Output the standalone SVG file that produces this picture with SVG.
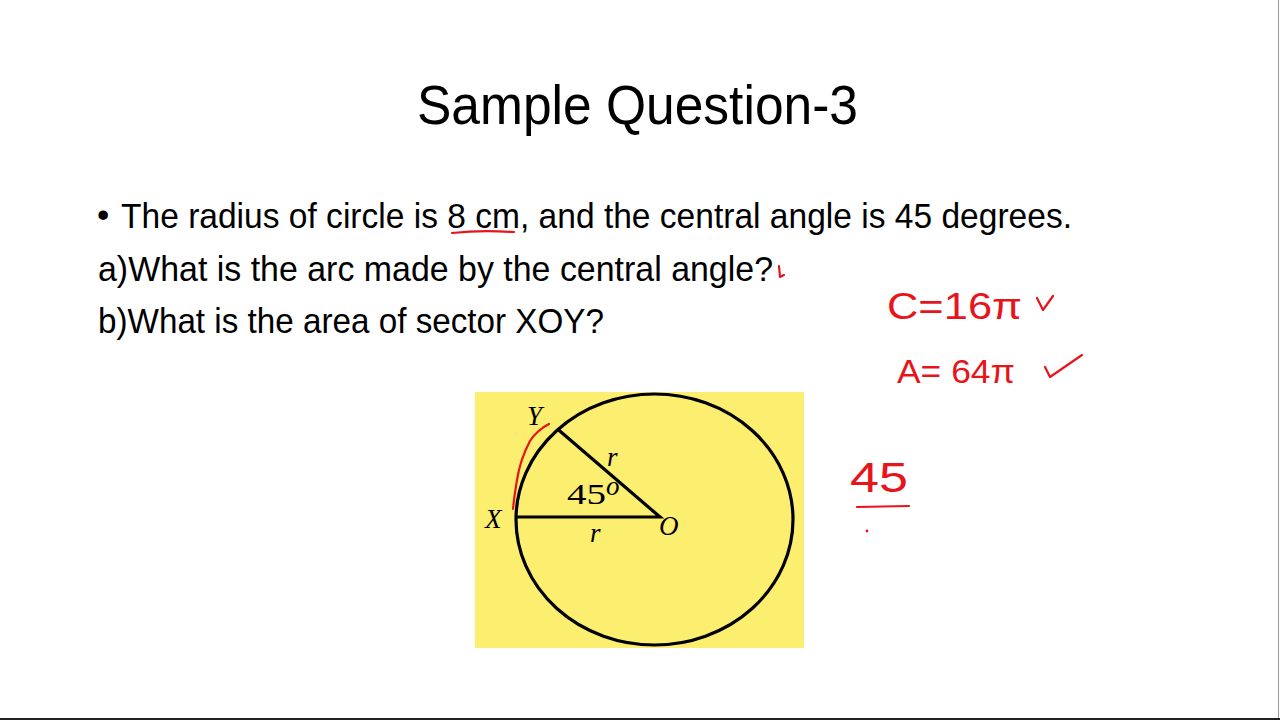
<svg xmlns="http://www.w3.org/2000/svg" width="1280" height="720" viewBox="0 0 1280 720">
<style>
.body{font-family:"Liberation Sans",Arial,sans-serif;font-size:35px;fill:#000}
.lbl{font-family:"Liberation Serif","DejaVu Serif",serif;font-style:italic;font-size:27px;fill:#000}
.num{font-family:"Liberation Serif","DejaVu Serif",serif;font-size:29px;fill:#000}
.ink{fill:none;stroke:#e8141c;stroke-width:2.2;stroke-linecap:round;stroke-linejoin:round}
.hand{font-family:"Liberation Sans",Arial,sans-serif;fill:#e8141c}
.geo{fill:none;stroke:#000;stroke-width:3.2}
</style>
<rect width="1280" height="720" fill="#fff"/>
<line x1="1278.5" y1="0" x2="1278.5" y2="720" stroke="#9a9a9a" stroke-width="1"/>
<line x1="0" y1="719" x2="1280" y2="719" stroke="#222" stroke-width="2"/>

<g id="title">
<text x="417" y="124" font-family="Liberation Sans,Arial,sans-serif" font-size="55" textLength="441" lengthAdjust="spacingAndGlyphs">Sample Question-3</text>
</g>

<g id="question">
<text class="body" x="97" y="227">•</text>
<text class="body" x="121" y="228" textLength="951" lengthAdjust="spacingAndGlyphs">The radius of circle is 8 cm, and the central angle is 45 degrees.</text>
<text class="body" x="98" y="281" textLength="675" lengthAdjust="spacingAndGlyphs">a)What is the arc made by the central angle?</text>
<text class="body" x="98" y="333" textLength="506" lengthAdjust="spacingAndGlyphs">b)What is the area of sector XOY?</text>
</g>

<g id="figure">
<rect x="475" y="392" width="329" height="256" fill="#fcee6e"/>
<ellipse class="geo" cx="654.5" cy="519.5" rx="138.5" ry="125.5"/>
<polyline class="geo" points="515,517 660,517 557.5,429"/>
<text class="lbl" x="527" y="425">Y</text>
<text class="lbl" x="607" y="466">r</text>
<text class="num" x="567" y="504" textLength="39" lengthAdjust="spacingAndGlyphs">45</text>
<text class="lbl" x="606" y="495" font-size="20">o</text>
<text class="lbl" x="485" y="528">X</text>
<text class="lbl" x="590" y="542">r</text>
<text class="lbl" x="659" y="535">O</text>
</g>

<g id="annotations">
<path class="ink" d="M452,233 Q480,230 514,232"/>
<path class="ink" d="M779,266 L780,277 L784,275"/>
<path class="ink" d="M549,424 Q537,430 530,441 Q520,460 517,480 Q514,498 513,509"/>
<text class="hand" x="887" y="319" font-size="36" textLength="135" lengthAdjust="spacingAndGlyphs">C=16π</text>
<path class="ink" d="M1037,298 L1043,310 L1053,296"/>
<text class="hand" x="897" y="383" font-size="33" textLength="118" lengthAdjust="spacingAndGlyphs">A= 64π</text>
<path class="ink" d="M1045,367 L1050,377 L1082,355"/>
<text class="hand" x="850" y="492" font-size="42" textLength="58" lengthAdjust="spacingAndGlyphs">45</text>
<path class="ink" d="M857,507 L909,506"/>
<circle cx="867" cy="531" r="1.4" fill="#e8141c"/>
</g>
</svg>
